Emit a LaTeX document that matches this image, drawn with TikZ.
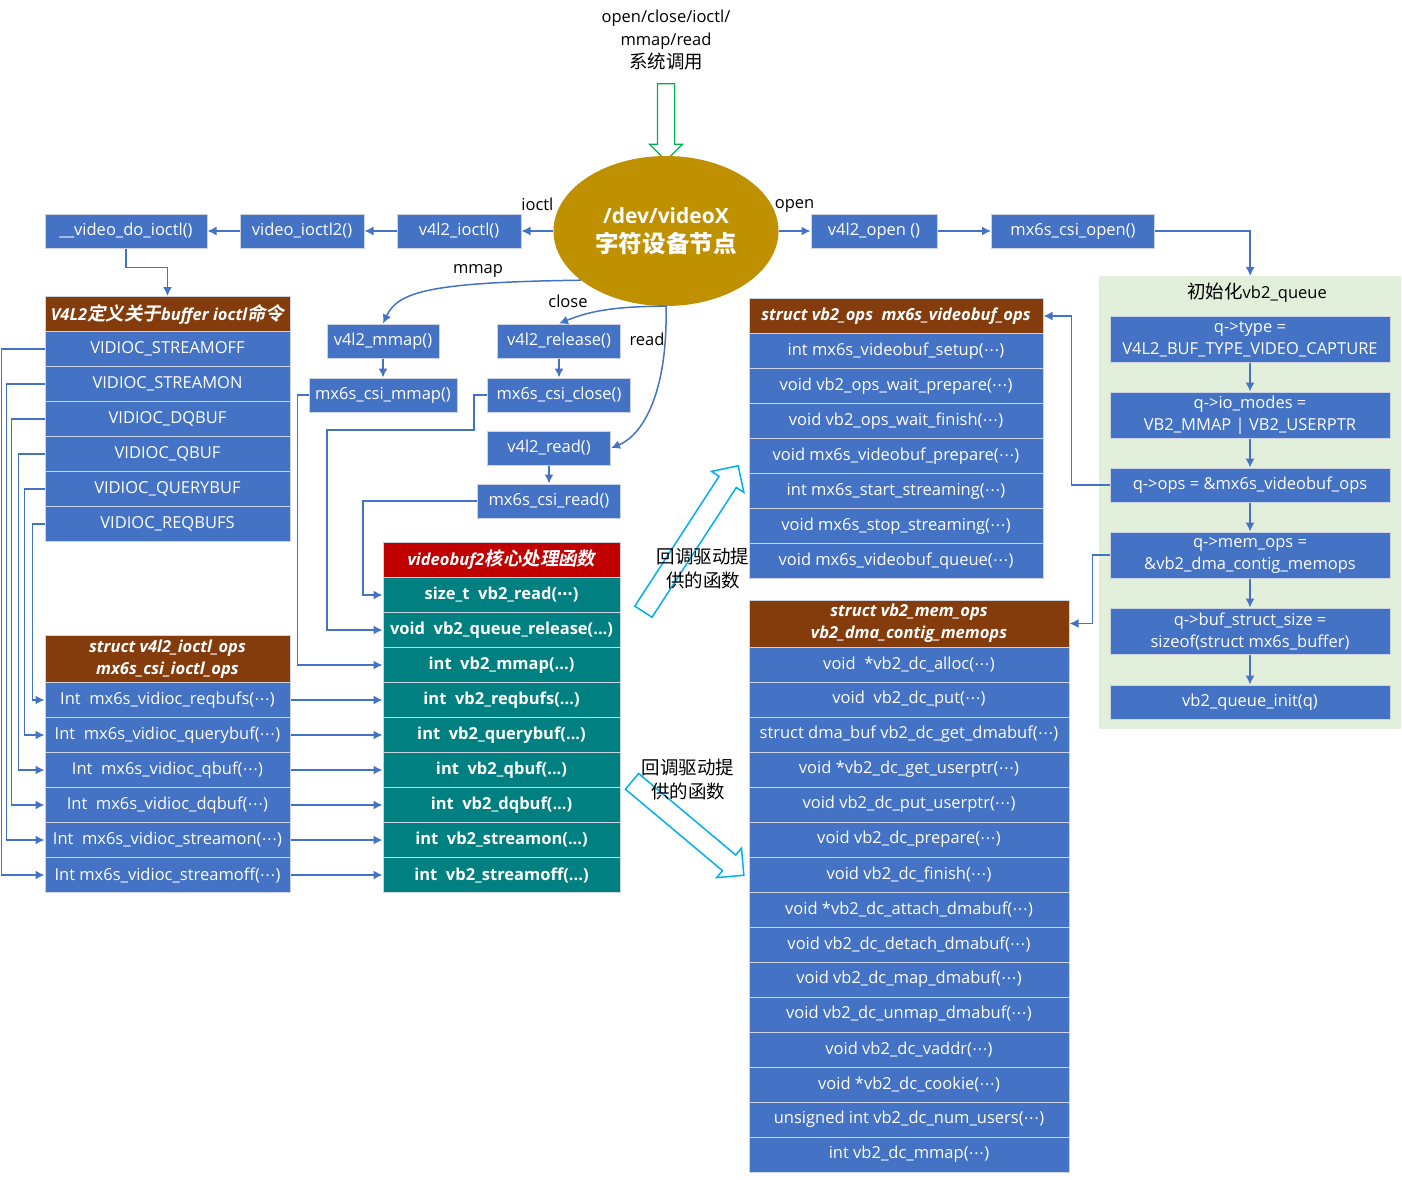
\documentclass[tikz,border=0pt]{standalone}
\usepackage{fontspec}
\setmainfont{Open Sans}
\newfontfamily\cjk{Noto Sans CJK SC}[Scale=1.12,
  ItalicFont={Noto Sans CJK SC}, ItalicFeatures={FakeSlant=0.2},
  BoldItalicFont={Noto Sans CJK SC Bold}, BoldItalicFeatures={FakeSlant=0.2}]
\newfontfamily\dotfont{DejaVu Sans}[Scale=0.95]
\usetikzlibrary{shapes.geometric, shapes.arrows, arrows.meta}

\definecolor{boxblue}{HTML}{4472C4}
\definecolor{rowline}{HTML}{CCD4E3}
\definecolor{hdrbrown}{HTML}{843C0C}
\definecolor{coreteal}{HTML}{008080}
\definecolor{corered}{HTML}{C00000}
\definecolor{devgold}{HTML}{BF9000}
\definecolor{panelgreen}{HTML}{E2EFDA}
\definecolor{linkblue}{HTML}{4472C4}
\definecolor{arrowgreen}{HTML}{00B050}
\definecolor{callcyan}{HTML}{00B0F0}

\newcommand\fnfont{\fontsize{16.5}{22}\selectfont}
\newcommand\argdots{...}
\newcommand\mdots{{\dotfont\symbol{"22EF}}}

\begin{document}
\begin{tikzpicture}
      [x=1pt, y=-1pt,
       >={Latex[length=9pt,width=9pt]},
       every node/.style={font=\fnfont, inner sep=2pt},
       fn/.style={draw=rowline, line width=1pt, fill=boxblue, text=white,
         minimum height=34pt, align=center},
       hdr/.style={fn, fill=hdrbrown, font=\fnfont\bfseries\itshape},
       core/.style={fn, fill=coreteal, font=\fnfont\bfseries},
       link/.style={draw=linkblue, line width=1.5pt, ->},
       hollow/.style={single arrow, draw=#1, line width=1.5pt, fill=white,
         inner xsep=0pt, inner ysep=9.5pt, single arrow head extend=9pt},
      ]
      \useasboundingbox (0,0) rectangle (1402,1179);

      % system call entry
      \node[align=center, font=\fontsize{16.5}{23}\selectfont] (syscall) at (666,40)
        {open/close/ioctl/\\mmap/read\\{\cjk 系统调用}};
      \node[hollow=arrowgreen, line width=1.2pt, inner ysep=8pt, single arrow head extend=8pt,
        minimum height=77pt, rotate=-90] (sysarrow) at (666,118) {};
      \node[ellipse, fill=devgold, minimum width=225pt, minimum height=150pt,
        text=white, align=center, font=\fontsize{21}{29}\selectfont\bfseries]
        (dev) at (666,231) {/dev/videoX\\{\cjk 字符设备节点}};

      % top row
      \node[fn, minimum width=162pt] (doioctl) at (126,231) {\_\_video\_do\_ioctl()};
      \node[fn, minimum width=124pt] (ioctltwo) at (302,231) {video\_ioctl2()};
      \node[fn, minimum width=124pt] (vioctl) at (459,231) {v4l2\_ioctl()};
      \node[fn, minimum width=126pt] (vopen) at (874,231) {v4l2\_open ()};
      \node[fn, minimum width=163pt] (csiopen) at (1073,231) {mx6s\_csi\_open()};

      \draw[link] (dev.west) -- node[above=18pt] {ioctl} (vioctl.east);
      \draw[link] (vioctl) -- (ioctltwo);
      \draw[link] (ioctltwo) -- (doioctl);
      \draw[link] (dev.east) -- node[above=16pt] {open} (vopen.west);
      \draw[link] (vopen) -- (csiopen);

      % middle: mmap / close / read
      \node[fn, minimum width=112pt] (vmmap) at (383,341) {v4l2\_mmap()};
      \node[fn, minimum width=148pt] (csimmap) at (383,395) {mx6s\_csi\_mmap()};
      \node[fn, minimum width=123pt] (vrelease) at (559,341) {v4l2\_release()};
      \node[fn, minimum width=143pt] (csiclose) at (559,395) {mx6s\_csi\_close()};
      \node[fn, minimum width=123pt] (vread) at (549,448) {v4l2\_read()};
      \node[fn, minimum width=143pt] (csiread) at (549,501) {mx6s\_csi\_read()};

      \draw[link] (dev.210) .. controls +(-150,2) and +(15,-32) .. (vmmap.north);
      \draw[link] (dev.south) .. controls +(-60,0) and +(25,-10) .. (vrelease.north);
      \draw[link] (dev.south) .. controls +(2,90) and +(30,-12) .. (vread.east);
      \node (mmaplbl) at (478,271) {mmap};
      \node (closelbl) at (568,301) {close};
      \node (readlbl) at (647,339) {read};

      \draw[link] (vmmap) -- (csimmap);
      \draw[link] (vrelease) -- (csiclose);
      \draw[link] (vread) -- (csiread);

      % V4L2 buffer ioctl commands
      \node[hdr, minimum width=245pt, minimum height=35pt] (cmdhdr) at (167.5,314)
        {V4L2{\cjk 定义关于}buffer ioctl{\cjk 命令}};
      \foreach \t [count=\i] in {VIDIOC\_STREAMOFF, VIDIOC\_STREAMON, VIDIOC\_DQBUF,
          VIDIOC\_QBUF, VIDIOC\_QUERYBUF, VIDIOC\_REQBUFS}
        \node[fn, minimum width=245pt, minimum height=35pt] (cmd\i) at (167.5,314+35*\i) {\t};
      \draw[link] (doioctl.south) -- ++(0,19) -| (cmdhdr.north);

      % struct v4l2_ioctl_ops
      \node[hdr, minimum width=245pt, minimum height=47pt] (ioctlhdr) at (167.5,659)
        {struct v4l2\_ioctl\_ops\\mx6s\_csi\_ioctl\_ops};
      \foreach \t [count=\i] in {Int~~mx6s\_vidioc\_reqbufs(\mdots), Int~~mx6s\_vidioc\_querybuf(\mdots),
          Int~~mx6s\_vidioc\_qbuf(\mdots), Int~~mx6s\_vidioc\_dqbuf(\mdots),
          Int~~mx6s\_vidioc\_streamon(\mdots), Int mx6s\_vidioc\_streamoff(\mdots)}
        \node[fn, minimum width=245pt, minimum height=35pt] (op\i) at (167.5,665+35*\i) {\t};

      \foreach \a/\b/\d in {1/6/43, 2/5/38, 3/4/33, 4/3/26, 5/2/20, 6/1/12}
        \draw[link] (cmd\a.west) -- ++(-\d,0) |- (op\b.west);

      % videobuf2 core
      \node[hdr, fill=corered, minimum width=237pt, minimum height=35pt] (corehdr) at (501.5,560)
        {videobuf2{\cjk 核心处理函数}};
      \foreach \t [count=\i] in {size\_t~~vb2\_read(\mdots), void~~vb2\_queue\_release(\argdots),
          int~~vb2\_mmap(\argdots), int~~vb2\_reqbufs(\argdots), int~~vb2\_querybuf(\argdots),
          int~~vb2\_qbuf(\argdots), int~~vb2\_dqbuf(\argdots), int~~vb2\_streamon(\argdots),
          int~~vb2\_streamoff(\argdots)}
        \node[core, minimum width=237pt, minimum height=35pt] (vb\i) at (501.5,560+35*\i) {\t};

      \foreach \a/\b in {1/4, 2/5, 3/6, 4/7, 5/8, 6/9}
        \draw[link] (op\a.east) -- (vb\b.west);
      \draw[link] (csiread.west) -- ++(-114,0) |- (vb1.west);
      \draw[link] (csiclose.west) -- ++(-13,0) -- ++(0,35) -- ++(-147,0) |- (vb2.west);
      \draw[link] (csimmap.west) -- ++(-11,0) |- (vb3.west);

      % struct vb2_ops
      \node[hdr, minimum width=294pt, minimum height=35pt] (vbopshdr) at (896,316)
        {struct vb2\_ops~~mx6s\_videobuf\_ops};
      \foreach \t [count=\i] in {int mx6s\_videobuf\_setup(\mdots), void vb2\_ops\_wait\_prepare(\mdots),
          void vb2\_ops\_wait\_finish(\mdots), void mx6s\_videobuf\_prepare(\mdots),
          int mx6s\_start\_streaming(\mdots), void mx6s\_stop\_streaming(\mdots),
          void mx6s\_videobuf\_queue(\mdots)}
        \node[fn, minimum width=294pt, minimum height=35pt] (vbop\i) at (896,316+35*\i) {\t};

      % struct vb2_mem_ops
      \node[hdr, minimum width=320pt, minimum height=47pt] (memhdr) at (909,623.5)
        {struct vb2\_mem\_ops\\vb2\_dma\_contig\_memops};
      \foreach \t [count=\i] in {void~~*vb2\_dc\_alloc(\mdots), void~~vb2\_dc\_put(\mdots),
          struct dma\_buf vb2\_dc\_get\_dmabuf(\mdots), void *vb2\_dc\_get\_userptr(\mdots),
          void vb2\_dc\_put\_userptr(\mdots), void vb2\_dc\_prepare(\mdots),
          void vb2\_dc\_finish(\mdots), void *vb2\_dc\_attach\_dmabuf(\mdots),
          void vb2\_dc\_detach\_dmabuf(\mdots), void vb2\_dc\_map\_dmabuf(\mdots),
          void vb2\_dc\_unmap\_dmabuf(\mdots), void vb2\_dc\_vaddr(\mdots),
          void *vb2\_dc\_cookie(\mdots), unsigned int vb2\_dc\_num\_users(\mdots),
          int vb2\_dc\_mmap(\mdots)}
        \node[fn, minimum width=320pt, minimum height=35pt] (mem\i) at (909,629.5+35*\i) {\t};

      % callback arrows
      \node[hollow=callcyan, minimum height=174pt, rotate=57] (cbup) at (688,543) {};
      \node[hollow=callcyan, minimum height=146pt, rotate=-40] (cbdown) at (684,825) {};
      \node[align=center, font=\fontsize{16.5}{24}\selectfont\cjk] (cbuplbl) at (703,569) {回调驱动提\\供的函数};
      \node[align=center, font=\fontsize{16.5}{24}\selectfont\cjk] (cbdownlbl) at (688,779) {回调驱动提\\供的函数};

      % vb2_queue init
      \node[fill=panelgreen, minimum width=302pt, minimum height=453pt, anchor=north west,
        inner sep=0pt] (panel) at (1099,276) {};
      \node (paneltitle) at (1257,293) {{\cjk 初始化}vb2\_queue};
      \node[fn, minimum width=280pt, minimum height=46pt] (qtype) at (1250,339)
        {q->type =\\V4L2\_BUF\_TYPE\_VIDEO\_CAPTURE};
      \node[fn, minimum width=280pt, minimum height=46pt] (qio) at (1250,415)
        {q->io\_modes =\\VB2\_MMAP | VB2\_USERPTR};
      \node[fn, minimum width=280pt, minimum height=34pt] (qops) at (1250,485)
        {q->ops = \&mx6s\_videobuf\_ops};
      \node[fn, minimum width=280pt, minimum height=46pt] (qmem) at (1250,555)
        {q->mem\_ops =\\\&vb2\_dma\_contig\_memops};
      \node[fn, minimum width=280pt, minimum height=46pt] (qsize) at (1250,631)
        {q->buf\_struct\_size =\\sizeof(struct mx6s\_buffer)};
      \node[fn, minimum width=280pt, minimum height=34pt] (qinit) at (1250,702)
        {vb2\_queue\_init(q)};

      \draw[link] (csiopen.east) -| (panel.north);
      \foreach \a/\b in {qtype/qio, qio/qops, qops/qmem, qmem/qsize, qsize/qinit}
        \draw[link] (\a) -- (\b);
      \draw[link] (qops.west) -- ++(-38,0) |- (vbopshdr.east);
      \draw[link] (qmem.west) -- ++(-17,0) |- (memhdr.east);
    \end{tikzpicture}
\end{document}
